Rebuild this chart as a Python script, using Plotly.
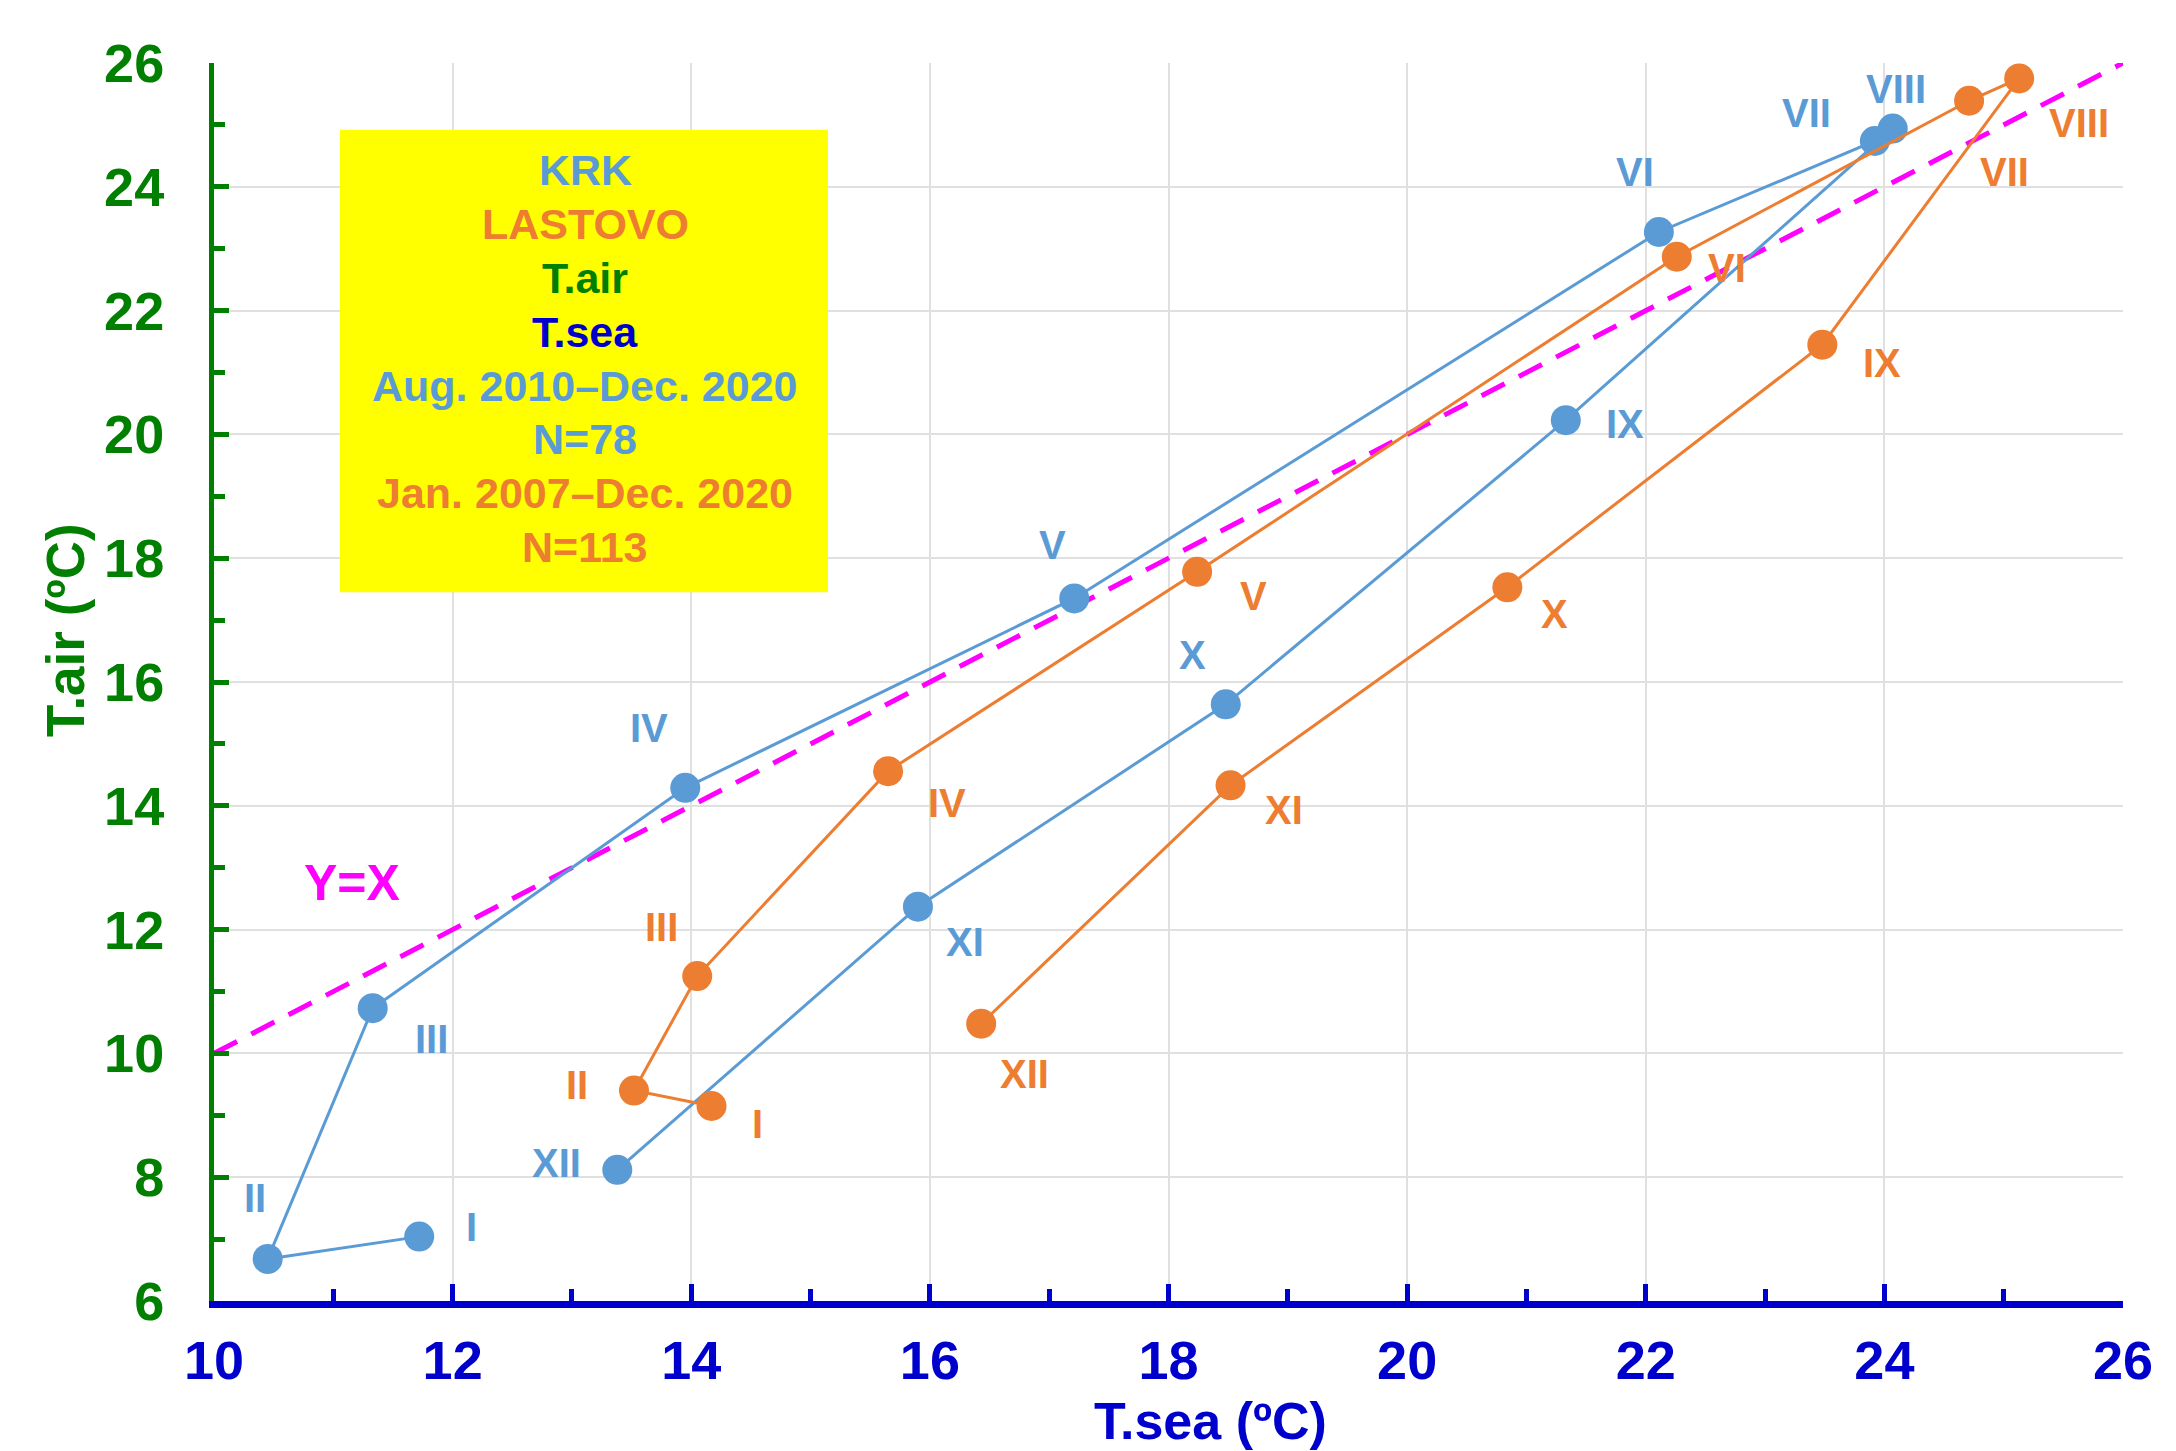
import plotly.graph_objects as go

# maanden (romeinse cijfers)
months = ["I", "II", "III", "IV", "V", "VI", "VII", "VIII", "IX", "X", "XI", "XII"]

# KRK - gemiddelde maandwaarden
krk_sea = [11.72, 10.45, 11.33, 13.95, 17.21, 22.11, 23.92, 24.07, 21.33, 18.48, 15.90, 13.38]
krk_air = [7.04, 6.68, 10.73, 14.29, 17.35, 23.27, 24.74, 24.94, 20.23, 15.64, 12.37, 8.12]

# LASTOVO - gemiddelde maandwaarden
lastovo_sea = [14.17, 13.52, 14.05, 15.65, 18.24, 22.26, 24.71, 25.13, 23.48, 20.84, 18.52, 16.43]
lastovo_air = [9.15, 9.40, 11.25, 14.56, 17.78, 22.87, 25.39, 25.75, 21.45, 17.53, 14.33, 10.48]

# Y=X lijn
ref_line = [10, 26]

# tekst in het gele kader
box_lines = ["KRK", "LASTOVO", "T.air", "T.sea", "Aug. 2010\u2013Dec. 2020", "N=78",
             "Jan. 2007\u2013Dec. 2020", "N=113"]

BLUE = "#5b9bd5"
ORANGE = "#ed7d31"
GREEN = "#007f00"
NAVY = "#0000cc"
MAGENTA = "#ff00ff"
FONT = "Liberation Sans"

# verschuiving van de labels (pixels, x rechts / y omhoog)
krk_shift = [(52, 10), (-13, 61), (59, -31), (-36, 60), (-22, 53), (-24, 60),
             (-68, 28), (3, 40), (59, -4), (-33, 49), (47, -35), (-61, 7)]
lastovo_shift = [(46, -18), (-57, 6), (-36, 49), (59, -32), (56, -24), (50, -11),
                 (35, -71), (60, -45), (60, -18), (47, -27), (53, -25), (43, -50)]

box_colors = [BLUE, ORANGE, GREEN, NAVY, BLUE, BLUE, ORANGE, ORANGE]

fig = go.Figure()

# Y=X stippellijn
fig.add_trace(go.Scatter(
    x=ref_line, y=ref_line, mode="lines",
    line=dict(color=MAGENTA, width=5, dash="26px,16px"),
    hoverinfo="skip", showlegend=False
))

fig.add_trace(go.Scatter(
    x=krk_sea, y=krk_air, mode="lines+markers",
    line=dict(color=BLUE, width=3),
    marker=dict(size=30, color=BLUE),
    name="KRK", showlegend=False
))

fig.add_trace(go.Scatter(
    x=lastovo_sea, y=lastovo_air, mode="lines+markers",
    line=dict(color=ORANGE, width=3),
    marker=dict(size=30, color=ORANGE),
    name="LASTOVO", showlegend=False
))

annotations = []

# maandlabels
for xs, ys, shifts, col in [(krk_sea, krk_air, krk_shift, BLUE),
                            (lastovo_sea, lastovo_air, lastovo_shift, ORANGE)]:
    for m, xv, yv, (dx, dy) in zip(months, xs, ys, shifts):
        annotations.append(dict(
            x=xv, y=yv, text=m, showarrow=False, xshift=dx, yshift=dy,
            xanchor="center", yanchor="middle",
            font=dict(family=FONT, size=40, color=col, weight="bold")
        ))

# tekst in kader
for i, (t, c) in enumerate(zip(box_lines, box_colors)):
    annotations.append(dict(
        x=13.11, y=24.27 - i * 0.87, text=t, showarrow=False,
        xanchor="center", yanchor="middle",
        font=dict(family=FONT, size=43, color=c, weight="bold")
    ))

annotations.append(dict(
    x=11.16, y=12.76, text="Y=X", showarrow=False,
    xanchor="center", yanchor="middle",
    font=dict(family=FONT, size=50, color=MAGENTA, weight="bold")
))

# as titels
annotations.append(dict(
    x=0.522, y=-0.097, xref="paper", yref="paper", text="T.sea (\u00baC)",
    showarrow=False, xanchor="center", yanchor="middle",
    font=dict(family=FONT, size=52, color=NAVY, weight="bold")
))
annotations.append(dict(
    x=-0.078, y=0.542, xref="paper", yref="paper", text="T.air (\u00baC)",
    showarrow=False, textangle=-90, xanchor="center", yanchor="middle",
    font=dict(family=FONT, size=53, color=GREEN, weight="bold")
))

fig.update_layout(
    width=2176, height=1451,
    margin=dict(l=206, r=61, t=55, b=158),
    plot_bgcolor="white", paper_bgcolor="white",
    annotations=annotations,
    shapes=[dict(type="rect", xref="x", yref="y", x0=11.056, x1=15.146, y0=17.45, y1=24.92,
                 fillcolor="#ffff00", line=dict(width=0), layer="above")],
)

fig.update_xaxes(
    range=[10, 26], dtick=2, showgrid=True, gridcolor="#e0e0e0", gridwidth=2,
    showline=True, linecolor=NAVY, linewidth=7, zeroline=False,
    ticks="inside", ticklen=17, tickwidth=5, tickcolor=NAVY,
    minor=dict(dtick=1, ticks="inside", ticklen=12, tickwidth=5, tickcolor=NAVY, showgrid=False),
    tickfont=dict(family=FONT, size=54, color=NAVY, weight="bold"),
    ticklabelstandoff=6
)
fig.update_yaxes(
    range=[6, 26], dtick=2, showgrid=True, gridcolor="#e0e0e0", gridwidth=2,
    showline=True, linecolor=GREEN, linewidth=5, zeroline=False,
    ticks="inside", ticklen=15, tickwidth=5, tickcolor=GREEN,
    minor=dict(dtick=1, ticks="inside", ticklen=11, tickwidth=5, tickcolor=GREEN, showgrid=False),
    tickfont=dict(family=FONT, size=54, color=GREEN, weight="bold"),
    ticklabelstandoff=34
)

fig.write_html("out.html")
